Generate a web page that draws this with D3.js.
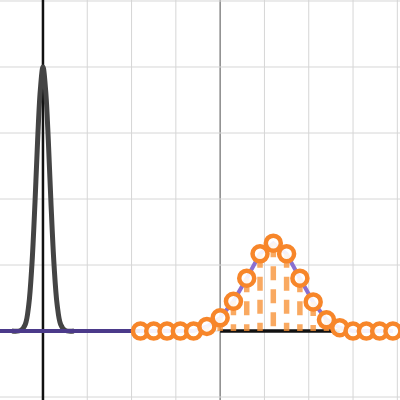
<!DOCTYPE html><html><head><script src="https://cdn.jsdelivr.net/npm/d3@7"></script>
<style>body{margin:0;background:#fff}</style></head><body><svg id="c" width="400" height="400"></svg>
<script>
const pointX=[2.2,2.5,2.8,3.1,3.4,3.7,4.0,4.3,4.6,4.9,5.2,5.5,5.8,6.1,6.4,6.7,7.0,7.3,7.6,7.9];
const pointY=[0,0,0,0,0,0.07,0.2,0.45,0.8,1.17,1.33,1.17,0.8,0.44,0.17,0.05,0,0,0,0];
const curveX=[-0.7,-0.5,-0.4,-0.32,-0.25,-0.18,-0.12,-0.06,0,0.06,0.12,0.18,0.25,0.32,0.4,0.5,0.7];
const curveY=[0,0.01,0.1,0.4,1.0,1.95,2.9,3.65,4,3.65,2.9,1.95,1.0,0.4,0.1,0.01,0];
const gridX=[-1,0,1,2,3,4,5,6,7,8];
const gridY=[-1,0,1,2,3,4,5];
const svg=d3.select("#c");
const x=d3.scaleLinear().domain([-0.97,8.06]).range([0,400]);
const y=d3.scaleLinear().domain([-1.045,5.015]).range([400,0]);
svg.selectAll(".gx").data(gridX).join("line").attr("x1",d=>x(d)).attr("x2",d=>x(d)).attr("y1",0).attr("y2",400)
 .attr("stroke",d=>d===4?"#888":"#d6d6d6").attr("stroke-width",d=>d===4?1.5:1);
svg.selectAll(".gy").data(gridY).join("line").attr("y1",d=>y(d)).attr("y2",d=>y(d)).attr("x1",0).attr("x2",400).attr("stroke","#d6d6d6");
svg.append("line").attr("x1",x(0)).attr("x2",x(0)).attr("y1",0).attr("y2",400).attr("stroke","#111").attr("stroke-width",2.5);
svg.append("line").attr("x1",x(4)).attr("x2",x(6.7)).attr("y1",y(0)).attr("y2",y(0)).attr("stroke","#111").attr("stroke-width",3.5);
svg.append("path").datum(curveX.map((d,i)=>[d,curveY[i]])).attr("d",d3.line().x(d=>x(d[0])).y(d=>y(d[1])).curve(d3.curveCatmullRom))
 .attr("fill","none").attr("stroke","#444").attr("stroke-width",5);
svg.append("line").attr("x1",0).attr("x2",x(2.2)).attr("y1",y(0)).attr("y2",y(0)).attr("stroke","#4b3a8a").attr("stroke-width",4);
svg.append("path").datum(pointX.map((d,i)=>[d,pointY[i]])).attr("d",d3.line().x(d=>x(d[0])).y(d=>y(d[1])))
 .attr("fill","none").attr("stroke","#8a6fd0").attr("stroke-width",4);
svg.selectAll(".st").data(pointX.map((d,i)=>[d,pointY[i]]).filter(d=>d[1]>0.02)).join("line")
 .attr("x1",d=>x(d[0])).attr("x2",d=>x(d[0])).attr("y1",d=>y(d[1])).attr("y2",y(0))
 .attr("stroke","#f7943a").attr("stroke-opacity",0.8).attr("stroke-width",5.5).attr("stroke-dasharray","14,9");
svg.selectAll(".pt").data(pointX.map((d,i)=>[d,pointY[i]])).join("circle")
 .attr("cx",d=>x(d[0])).attr("cy",d=>y(d[1])).attr("r",7.5).attr("fill","#fff").attr("fill-opacity",0.9)
 .attr("stroke","#f7862a").attr("stroke-width",4.5);
</script></body></html>
